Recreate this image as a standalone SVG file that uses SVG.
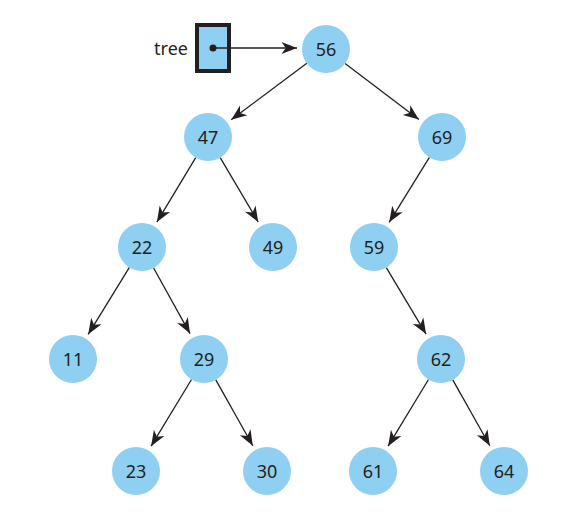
<svg xmlns="http://www.w3.org/2000/svg" width="581" height="523" viewBox="0 0 581 523">
<style>
.node circle{fill:#8ecff2;}
.node text,.lbl{font-family:"Noto Sans","Open Sans",sans-serif;font-size:18px;fill:#231f20;text-anchor:middle;}
.edge{stroke:#231f20;stroke-width:1.3;fill:none;marker-end:url(#ah);}
</style>
<defs>
<marker id="ah" markerUnits="userSpaceOnUse" markerWidth="20" markerHeight="20" refX="0" refY="0" viewBox="-16 -8 18 16" orient="auto">
<path d="M0,0 L-14,-5.5 L-10,0 L-14,5.5 Z" fill="#231f20"/>
</marker>
</defs>
<rect width="581" height="523" fill="#ffffff"/>
<g id="pointer">
<text class="lbl" x="188" y="55" style="text-anchor:end">tree</text>
<rect x="197" y="25" width="32" height="46" fill="#8ecff2" stroke="#231f20" stroke-width="4"/>
<circle cx="213" cy="48" r="3.5" fill="#231f20"/>
</g>
<g id="connectors">
<line class="edge" x1="213" y1="48" x2="297" y2="48"/>
<line class="edge" x1="306.8" y1="63.3" x2="231.2" y2="119.7"/>
<line class="edge" x1="345.1" y1="63.5" x2="418.9" y2="119.5"/>
<line class="edge" x1="195.7" y1="157.6" x2="156.9" y2="222.1"/>
<line class="edge" x1="220.2" y1="157.7" x2="258.2" y2="222.0"/>
<line class="edge" x1="429.4" y1="157.4" x2="389.2" y2="222.3"/>
<line class="edge" x1="129.4" y1="267.4" x2="88.2" y2="334.3"/>
<line class="edge" x1="153.6" y1="268.0" x2="190.0" y2="333.6"/>
<line class="edge" x1="386.3" y1="267.6" x2="426.1" y2="334.1"/>
<line class="edge" x1="191.5" y1="379.5" x2="151.1" y2="446.2"/>
<line class="edge" x1="215.8" y1="379.9" x2="252.8" y2="445.7"/>
<line class="edge" x1="428.5" y1="379.5" x2="388.1" y2="446.2"/>
<line class="edge" x1="452.8" y1="379.9" x2="489.8" y2="445.7"/>
</g>
<g id="n56" class="node"><circle cx="326" cy="49" r="24"/><text x="326" y="56">56</text></g>
<g id="n47" class="node"><circle cx="208" cy="137" r="24"/><text x="208" y="144">47</text></g>
<g id="n69" class="node"><circle cx="442" cy="137" r="24"/><text x="442" y="144">69</text></g>
<g id="n22" class="node"><circle cx="142" cy="247" r="24"/><text x="142" y="254">22</text></g>
<g id="n49" class="node"><circle cx="273" cy="247" r="24"/><text x="273" y="254">49</text></g>
<g id="n59" class="node"><circle cx="374" cy="247" r="24"/><text x="374" y="254">59</text></g>
<g id="n11" class="node"><circle cx="73" cy="359" r="24"/><text x="73" y="366">11</text></g>
<g id="n29" class="node"><circle cx="204" cy="359" r="24"/><text x="204" y="366">29</text></g>
<g id="n62" class="node"><circle cx="441" cy="359" r="24"/><text x="441" y="366">62</text></g>
<g id="n23" class="node"><circle cx="136" cy="471" r="24"/><text x="136" y="478">23</text></g>
<g id="n30" class="node"><circle cx="267" cy="471" r="24"/><text x="267" y="478">30</text></g>
<g id="n61" class="node"><circle cx="373" cy="471" r="24"/><text x="373" y="478">61</text></g>
<g id="n64" class="node"><circle cx="504" cy="471" r="24"/><text x="504" y="478">64</text></g>
</svg>
